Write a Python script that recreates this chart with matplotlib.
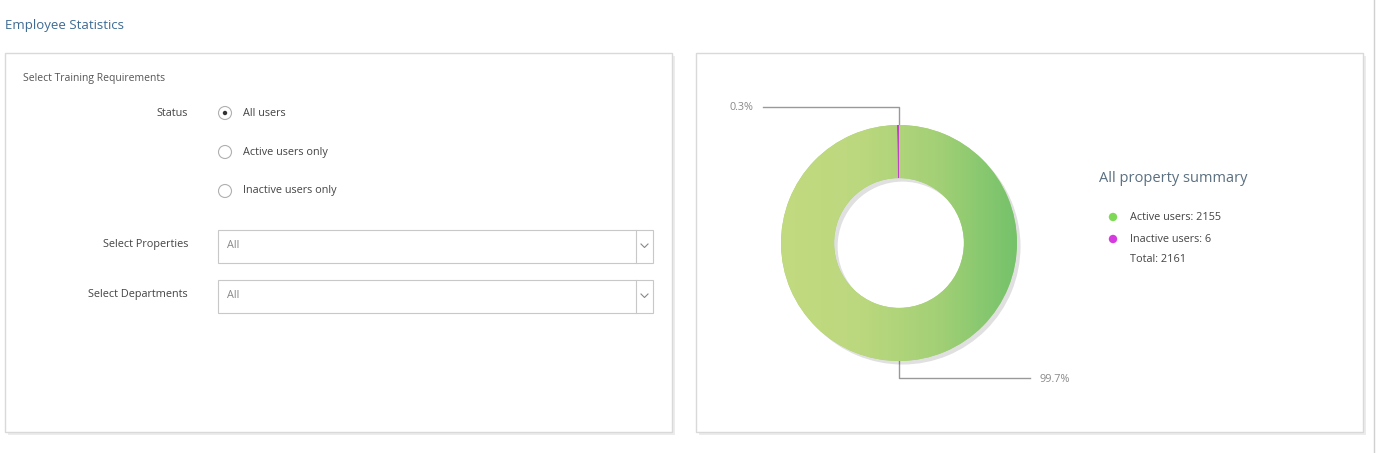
import matplotlib
matplotlib.use("Agg")
import matplotlib.pyplot as plt
import numpy as np
from matplotlib.patches import Rectangle, Circle, Wedge

plt.rcParams['font.family'] = ['Open Sans', 'DejaVu Sans']

labels = ["Active users", "Inactive users"]
values = [2155, 6]
legend_colors = ["#7ed957", "#d63be0"]
status_options = ["All users", "Active users only", "Inactive users only"]

W, H = 1382, 453
fig = plt.figure(figsize=(W/100, H/100), dpi=100)
ov = fig.add_axes([0, 0, 1, 1])
ov.set_xlim(0, W); ov.set_ylim(H, 0); ov.axis('off')

ov.text(5, 25, "Employee Statistics", fontsize=9.5, color="#3d6b94", va='center')
ov.plot([1374, 1374], [0, H], color="#d0d0d0", lw=1)
for x0 in (5, 696):
    ov.add_patch(Rectangle((x0+3, 56), 667, 379, fc="#ececec", ec="none", zorder=0))
    ov.add_patch(Rectangle((x0, 53), 667, 379, fc="white", ec="#d9d9d9", lw=1, zorder=1))

tc = "#444444"
ov.text(23, 78, "Select Training Requirements", fontsize=7.5, color="#555555", va='center', zorder=3)
ov.text(188, 113, "Status", fontsize=7.8, color=tc, va='center', ha='right', zorder=3)
for i, opt in enumerate(status_options):
    y = 113 + 39*i
    ov.add_patch(Circle((225, y), 6.5, fc='white', ec="#b0b0b0", lw=0.8, zorder=3))
    if i == 0:
        ov.add_patch(Circle((225, y), 2.2, fc="#333333", ec='none', zorder=4))
    ov.text(243, y, opt, fontsize=7.8, color=tc, va='center', zorder=3)
for lab, y in (("Select Properties", 246), ("Select Departments", 296)):
    ov.text(188, y - 2, lab, fontsize=7.8, color=tc, va='center', ha='right', zorder=3)
    ov.add_patch(Rectangle((218, y-16), 435, 33, fc='white', ec="#c8c8c8", lw=0.8, zorder=3))
    ov.plot([636, 636], [y-16, y+17], color="#c8c8c8", lw=0.8, zorder=4)
    ov.plot([641, 644.5, 648], [y-2, y+1.5, y-2], color="#888888", lw=0.8, zorder=4)
    ov.text(227, y, "All", fontsize=7.8, color="#888888", va='center', zorder=4)

# donut
cx, cy, R = 899, 243, 118
ax = fig.add_axes([(cx-130)/W, (H-cy-130)/H, 260/W, 260/H])
ax.set_xlim(-130/R, 130/R); ax.set_ylim(-130/R, 130/R); ax.set_aspect('equal'); ax.axis('off')
total = sum(values)
fr = 0.55
# shadow
ax.add_patch(Wedge((0.03, -0.03), 1.0, 0, 360, width=1-fr, fc="#000000", alpha=0.12, ec='none'))
wedges, _ = ax.pie(values, startangle=90, counterclock=False, radius=1.0,
                   colors=["#a8d27a", "#c040c8"], wedgeprops=dict(width=1-fr, ec='none'))
grad = np.linspace(0, 1, 256)[None, :]
from matplotlib.colors import LinearSegmentedColormap
cm = LinearSegmentedColormap.from_list("g", ["#c2da80", "#bcd87e", "#a3d076", "#74c26a"])
im = ax.imshow(grad, cmap=cm, extent=[-1, 1, -1, 1], aspect='auto', zorder=2)
im.set_clip_path(wedges[0])
ax.set_xlim(-130/R, 130/R); ax.set_ylim(-130/R, 130/R)

pct = [v/total*100 for v in values]
lc = "#999999"
ov.plot([763, 899, 899], [107, 107, 176], color=lc, lw=1, zorder=5)
ov.text(753, 108, f"{pct[1]:.1f}%", fontsize=7.8, color="#888888", ha='right', va='center', zorder=5)
ov.plot([899, 899, 1030], [361, 378, 378], color=lc, lw=1, zorder=5)
ov.text(1040, 379, f"{pct[0]:.1f}%", fontsize=7.8, color="#888888", va='center', zorder=5)

ov.text(1099, 179, "All property summary", fontsize=10.5, color="#5a6f80", va='center', zorder=5)
for i, (l, v) in enumerate(zip(labels, values)):
    y = 217 + 22*i
    ov.add_patch(Circle((1113, y), 4.2, fc=legend_colors[i], ec='none', zorder=5))
    ov.text(1130, y, f"{l}: {v}", fontsize=7.8, color=tc, va='center', zorder=5)
ov.text(1130, 260, f"Total: {total}", fontsize=7.8, color=tc, va='center', zorder=5)

fig.savefig("out.png", dpi=100)
